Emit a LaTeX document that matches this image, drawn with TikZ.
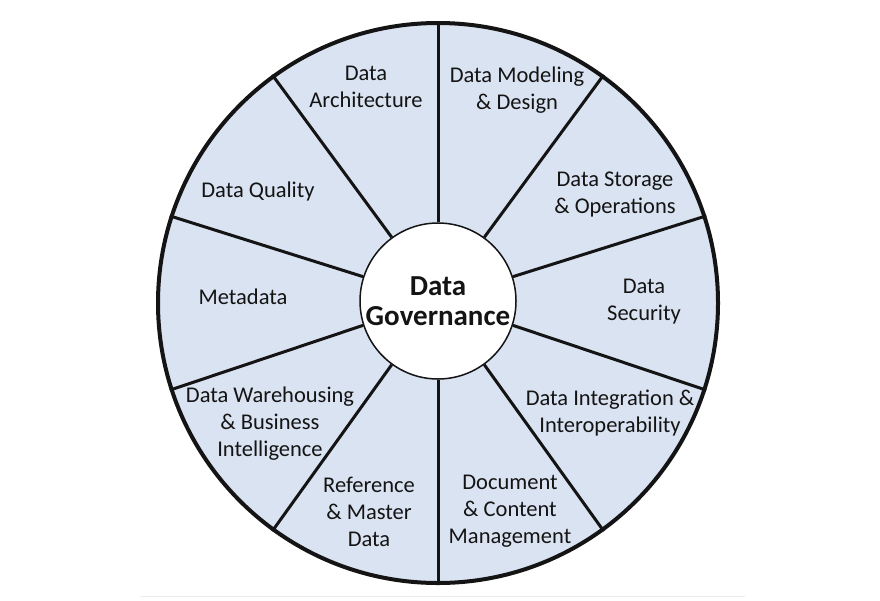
\documentclass[tikz,border=0pt]{standalone}
\usepackage{fontspec}
\setmainfont{Carlito}
\definecolor{segfill}{RGB}{218,227,242}
\definecolor{ink}{RGB}{20,20,20}
\begin{document}
\begin{tikzpicture}[x=1pt,y=-1pt,
  lbl/.style={font=\fontsize{22.5}{27}\selectfont, align=center, text=ink, inner sep=0},
  spoke/.style={draw=ink, line width=3pt}]
\useasboundingbox (0,0) rectangle (880,600);
\draw[black!8, line width=1pt] (140,596) -- (745,596);
\node[circle, draw=ink, line width=4pt, fill=segfill, minimum size=560pt, inner sep=0] (outer) at (438,303) {};
\node[circle, draw=ink, line width=1.5pt, fill=white, minimum size=156pt, inner sep=0,
  font=\bfseries\fontsize{29}{30}\selectfont, align=center, text=ink] (hub) at (438,301) {Data\\Governance};
\foreach \a in {18,54,...,342} \draw[spoke] (hub.\a) -- (outer.\a);
\node[lbl] (arch) at (366,87) {Data\\Architecture};
\node[lbl] (model) at (517,90) {Data Modeling\\\& Design};
\node[lbl] (storage) at (615,195) {Data Storage\\\& Operations};
\node[lbl] (security) at (644,302) {Data\\Security};
\node[lbl] (integ) at (610,413) {Data Integration \&\\Interoperability};
\node[lbl] (doc) at (510,511) {Document\\\& Content\\Management};
\node[lbl] (ref) at (369,512) {Reference\\\& Master\\Data};
\node[lbl] (dw) at (270,424) {Data Warehousing\\\& Business\\Intelligence};
\node[lbl] (meta) at (243,297) {Metadata};
\node[lbl] (quality) at (258,191) {Data Quality};
\end{tikzpicture}
\end{document}
